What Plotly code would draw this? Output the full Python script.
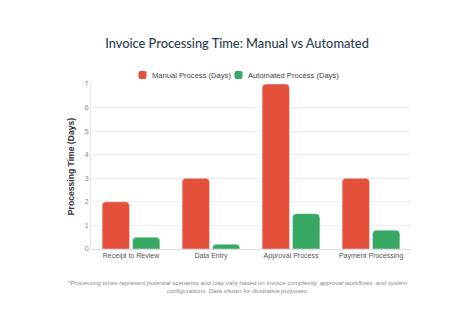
import plotly.graph_objects as go

categories = ["Receipt to Review", "Data Entry", "Approval Process", "Payment Processing"]
manual_days = [2, 3, 7, 3]
automated_days = [0.5, 0.2, 1.5, 0.8]
y_ticks = [0, 1, 2, 3, 4, 5, 6, 7]
series_names = ["Manual Process (Days)", "Automated Process (Days)"]
series_colors = ["#e4503a", "#37a862"]

W, H = 474, 316
ML, MR, MT, MB = 91, 63, 84, 67
PW, PH = W - ML - MR, H - MT - MB

def px_x(p):
    return (p - ML) / PW

def px_y(p):
    return (H - MB - p) / PH

fig = go.Figure()
for vals, name, col in zip([manual_days, automated_days], series_names, series_colors):
    fig.add_trace(go.Bar(x=categories, y=vals, name=name, cliponaxis=False,
                         marker=dict(color=col, cornerradius=4), showlegend=False))

fig.update_layout(
    width=W, height=H,
    margin=dict(l=ML, r=MR, t=MT, b=MB),
    paper_bgcolor="white", plot_bgcolor="white",
    font=dict(family="Liberation Sans, Arial, sans-serif", color="#555"),
    barmode="group", bargap=0.24, bargroupgap=0.1,
    title=dict(text="Invoice Processing Time: Manual vs Automated",
               x=0.5, xref="container", xanchor="center",
               y=1 - 44 / H, yref="container", yanchor="middle",
               font=dict(family="Lato, Open Sans, sans-serif", size=12.8, color="#2c3e50", weight=500)),
)
fig.update_yaxes(range=[0, 7], tickvals=y_ticks, showgrid=True, gridcolor="#eeeeee",
                 zeroline=False, showline=True, linecolor="#e6e6e6",
                 tickfont=dict(size=7, color="#888"),
                 title=dict(text="<b>Processing Time (Days)</b>", font=dict(size=8.6, color="#333"), standoff=8))
fig.update_xaxes(showline=True, linecolor="#dddddd", tickfont=dict(size=7, color="#555"))

# custom compact legend
legend_sym_px = [142.5, 238.5]
legend_y_px = 75
r = 4
path = (f"M {-r+2},{-r} L {r-2},{-r} Q {r},{-r} {r},{-r+2} L {r},{r-2} Q {r},{r} {r-2},{r} "
        f"L {-r+2},{r} Q {-r},{r} {-r},{r-2} L {-r},{-r+2} Q {-r},{-r} {-r+2},{-r} Z")
for sx, name, col in zip(legend_sym_px, series_names, series_colors):
    fig.add_shape(type="path", xref="paper", yref="paper", xsizemode="pixel", ysizemode="pixel",
                  xanchor=px_x(sx), yanchor=px_y(legend_y_px), path=path,
                  fillcolor=col, line=dict(width=0))
    fig.add_annotation(text=name, xref="paper", yref="paper", x=px_x(sx + 7), y=px_y(legend_y_px),
                       xanchor="left", yanchor="middle", showarrow=False,
                       font=dict(size=7.6, color="#444"))

fig.add_annotation(text="*Processing times represent potential scenarios and may vary based on invoice complexity, approval workflows, and system<br>configurations. Data shown for illustrative purposes.",
                   xref="paper", yref="paper", x=px_x(237), y=px_y(277), xanchor="center", yanchor="top",
                   showarrow=False, align="center",
                   font=dict(size=6.2, color="#888", family="Liberation Sans, Arial, sans-serif", style="italic"))

fig.write_html("out.html")
